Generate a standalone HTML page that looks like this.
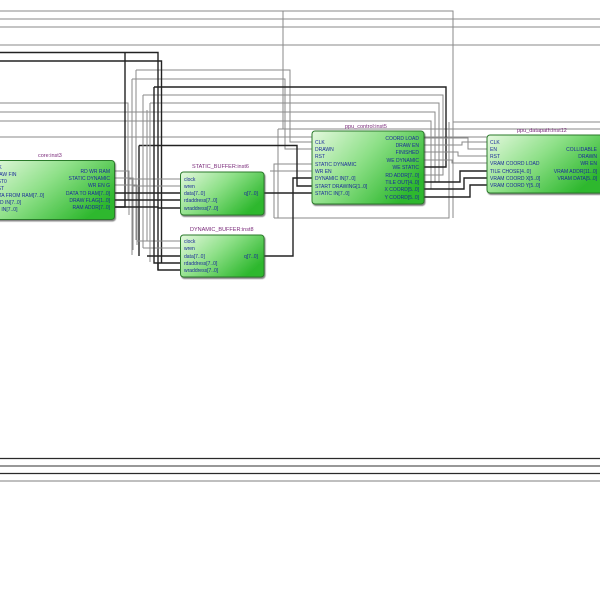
<!DOCTYPE html>
<html><head><meta charset="utf-8"><style>
html,body{margin:0;padding:0;background:#fff;width:600px;height:600px;overflow:hidden}
svg{display:block}
text{font-family:"Liberation Sans",sans-serif;font-size:5px;fill:#1a2a9a}
.t{fill:#7a2a7a;font-size:5.5px}
.g{stroke:#8a8a8a;stroke-width:1;fill:none}
.d{stroke:#222;stroke-width:1.4;fill:none}
.box{stroke:#2a7a2a;stroke-width:1;fill:url(#gr)}
</style></head><body>
<svg width="600" height="600" viewBox="0 0 600 600">
<defs>
<linearGradient id="gr" x1="0" y1="0" x2="1" y2="0.6">
<stop offset="0" stop-color="#e4f8de"/><stop offset="0.5" stop-color="#8ee088"/><stop offset="1" stop-color="#2fb82f"/>
</linearGradient>
<filter id="sh"><feDropShadow dx="1" dy="1.5" stdDeviation="0.6" flood-color="#333" flood-opacity="0.6"/></filter>
</defs>
<path class="g" d="M0 11H453V218M283 11V129M0 19H600M0 27H600M0 45H600"/>
<path class="g" d="M0 103H128V200M0 112H435V182M0 121H431V189M453 122H600M278 129H600M278 129V218M0 137H600"/>
<path class="g" d="M136 70H290V142H312M132 79H285V149H312M143 95H443V175H424M150 103H439V182"/>
<path class="g" d="M274 218H449V122M274 218V164H312M270 171H312"/>
<path class="d" d="M0 52.5H158V270M0 61H161.5V263M125 52V207H114M154 87H446V167H424M139 145.5H297V186H312M139 145.5V256"/>
<path class="g" d="M114 171H129V215M114 178H133V250M114 185H137V245M132 79V255M136 70V240M143 95V248M150 103V262M147 110V241"/>
<path class="g" d="M129 179H180M133 186H180M137 241H180M143 248H180"/>
<path class="d" d="M114 193H180M114 200H154V263H180M114 207H158V208H180M154 87V200H180M158 263V270H180M161.5 270H180M147 256H180"/>
<path class="d" d="M264 193H312M264 256H293V178H312"/>
<path class="g" d="M424 138H468V149H487M424 145H462V142H487M424 152H458V156H487M424 160H452V163H487"/>
<path class="d" d="M424 182H460V171H487M424 189H464V178H487M424 197H470V185H487"/>
<path class="g" d="M449 122V156"/>
<path d="M0 458.5H600" stroke="#2a2a2a" stroke-width="1.2"/>
<path d="M0 466H600" stroke="#777" stroke-width="1.6"/>
<path d="M0 473.5H600" stroke="#2a2a2a" stroke-width="1.2"/>
<path d="M0 481H600" stroke="#aaa" stroke-width="1.6"/>
<rect class="box" x="-10" y="160.5" width="124.5" height="59" rx="3" filter="url(#sh)"/>
<text class="t" x="38" y="157">core:inst3</text>
<text x="-8" y="169">CLK</text><text x="-8" y="176">DRAW FIN</text><text x="-6" y="183">RST0</text><text x="-6" y="190">RST</text>
<text x="-8" y="197">DATA FROM RAM[7..0]</text><text x="-7" y="204">SND IN[7..0]</text><text x="-7" y="211">ER IN[7..0]</text>
<g text-anchor="end"><text x="110" y="173">RD WR RAM</text><text x="110" y="180">STATIC DYNAMIC</text><text x="110" y="187">WR EN G</text>
<text x="110" y="195">DATA TO RAM[7..0]</text><text x="110" y="202">DRAW FLAG[1..0]</text><text x="110" y="209">RAM ADDR[7..0]</text></g>
<rect class="box" x="180.5" y="172" width="83.5" height="43" rx="3" filter="url(#sh)"/>
<text class="t" x="192" y="168">STATIC_BUFFER:inst6</text>
<text x="184" y="181">clock</text><text x="184" y="188">wren</text><text x="184" y="195">data[7..0]</text><text x="184" y="202">rdaddress[7..0]</text><text x="184" y="210">wraddress[7..0]</text>
<text x="244" y="195">q[7..0]</text>
<rect class="box" x="180.5" y="235" width="83.5" height="42" rx="3" filter="url(#sh)"/>
<text class="t" x="190" y="231">DYNAMIC_BUFFER:inst8</text>
<text x="184" y="243">clock</text><text x="184" y="250">wren</text><text x="184" y="258">data[7..0]</text><text x="184" y="265">rdaddress[7..0]</text><text x="184" y="272">wraddress[7..0]</text>
<text x="244" y="258">q[7..0]</text>
<rect class="box" x="312" y="131" width="112" height="73" rx="3" filter="url(#sh)"/>
<text class="t" x="345" y="128">ppu_control:inst5</text>
<text x="315" y="144">CLK</text><text x="315" y="151">DRAWN</text><text x="315" y="158">RST</text><text x="315" y="166">STATIC DYNAMIC</text>
<text x="315" y="173">WR EN</text><text x="315" y="180">DYNAMIC IN[7..0]</text><text x="315" y="188">START DRAWING[1..0]</text><text x="315" y="195">STATIC IN[7..0]</text>
<g text-anchor="end"><text x="419" y="140">COORD LOAD</text><text x="419" y="147">DRAW EN</text><text x="419" y="154">FINISHED</text>
<text x="419" y="162">WE DYNAMIC</text><text x="419" y="169">WE STATIC</text><text x="419" y="177">RD ADDR[7..0]</text>
<text x="419" y="184">TILE OUT[4..0]</text><text x="419" y="191">X COORD[5..0]</text><text x="419" y="199">Y COORD[5..0]</text></g>
<rect class="box" x="487" y="135" width="116" height="58" rx="3" filter="url(#sh)"/>
<text class="t" x="517" y="132">ppu_datapath:inst12</text>
<text x="490" y="144">CLK</text><text x="490" y="151">EN</text><text x="490" y="158">RST</text><text x="490" y="165">VRAM COORD LOAD</text>
<text x="490" y="173">TILE CHOSE[4..0]</text><text x="490" y="180">VRAM COORD X[5..0]</text><text x="490" y="187">VRAM COORD Y[5..0]</text>
<g text-anchor="end"><text x="597" y="151">COLLIDABLE</text><text x="597" y="158">DRAWN</text><text x="597" y="165">WR EN</text>
<text x="597" y="173">VRAM ADDR[11..0]</text><text x="597" y="180">VRAM DATA[5..0]</text></g>
</svg>
</body></html>
